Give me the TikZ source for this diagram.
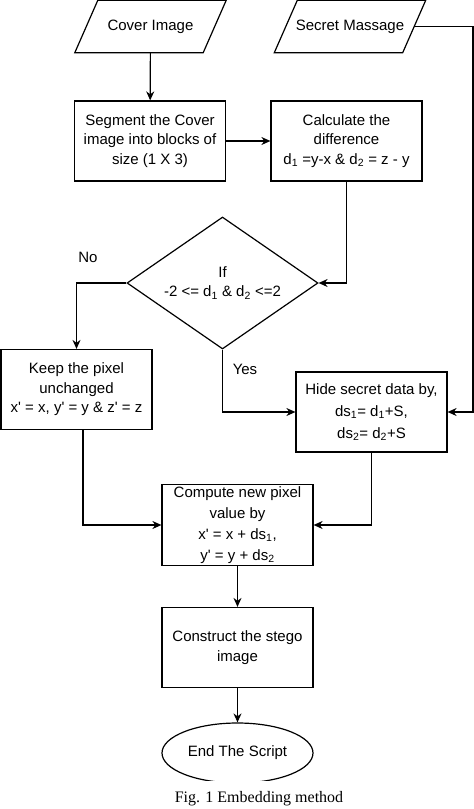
\documentclass[tikz,border=0pt]{standalone}
\usepackage{fontspec}
\newfontfamily\flowfont{Liberation Sans}
\newfontfamily\capfont{Liberation Serif}
\usetikzlibrary{shapes.geometric,arrows.meta}

\begin{document}
\begin{tikzpicture}
[x=1pt,y=-1pt,
  lineDecorate/.style={-{Stealth[length=9pt,width=8pt]},line width=1.2pt},%
  shapeLine/.style={line width=1.2pt},%
  nodeDecorate/.style={draw,line width=1.2pt,align=center,inner sep=2pt,
    font=\flowfont\fontsize{15}{19.5}\selectfont},%
  boxDecorate/.style={nodeDecorate,shape=rectangle,minimum width=151pt,minimum height=80pt},%
  ioDecorate/.style={align=center,inner sep=0pt,shape=rectangle,minimum width=128pt,
    minimum height=52pt,font=\flowfont\fontsize{15}{19.5}\selectfont},%
  decisionDecorate/.style={nodeDecorate,shape=diamond,aspect=1.45,inner sep=0pt,
    minimum width=191pt,minimum height=132pt},%
  endDecorate/.style={nodeDecorate,shape=ellipse,minimum width=151pt,minimum height=60pt},%
  labelDecorate/.style={font=\flowfont\fontsize{15}{19}\selectfont}]
\useasboundingbox (0,0) rectangle (474,809);
%% inputs and steps
\node (cover) at (150.5,26.5) [ioDecorate] {Cover Image};
\node (secret) at (350,26.5) [ioDecorate] {Secret Massage};
\foreach \io in {cover,secret}
{
  \draw[shapeLine] ([xshift=-11.5pt]\io.south west) -- ([xshift=-11.5pt]\io.south east)
    -- ([xshift=11.5pt]\io.north east) -- ([xshift=11.5pt]\io.north west) -- cycle;
}
\node (segment) at (150,141) [boxDecorate] {Segment the Cover\\image into blocks of\\size (1 X 3)};
\node (calc) at (346.5,141) [boxDecorate] {Calculate the\\difference\\d\textsubscript{1} =y-x \& d\textsubscript{2} = z - y};
\node (cond) at (222.5,283) [decisionDecorate] {If\\-2 <= d\textsubscript{1} \& d\textsubscript{2} <=2};
\node (keep) at (76.5,389.5) [boxDecorate] {Keep the pixel\\unchanged\\x' = x, y' = y \& z' = z};
\node (hide) at (371.5,412) [boxDecorate,font=\flowfont\fontsize{15}{22}\selectfont]
  {Hide secret data by,\\ds\textsubscript{1}= d\textsubscript{1}+S,\\ds\textsubscript{2}= d\textsubscript{2}+S};
\node (compute) at (237.5,525) [boxDecorate,font=\flowfont\fontsize{15}{21}\selectfont]
  {Compute new pixel\\value by\\x' = x + ds\textsubscript{1},\\y' = y + ds\textsubscript{2}};
\node (stego) at (237.5,647.5) [boxDecorate] {Construct the stego\\image};
\node (end) at (237.5,753) [endDecorate] {End The Script};
%% branch labels
\node (no) at (88,257) [labelDecorate] {No};
\node (yes) at (245,369) [labelDecorate] {Yes};
\coordinate (rail) at (473,412);
%% connectors
\draw[lineDecorate] (cover) -- (segment);
\draw[lineDecorate] (segment) -- (calc);
\draw[lineDecorate] (calc.south) |- (cond.east);
\draw[lineDecorate] (cond.west) -| (keep.north);
\draw[lineDecorate] (cond.south) |- (hide.west);
\draw[lineDecorate] (secret.east) -| (rail) -- (hide.east);
\draw[lineDecorate] ([xshift=6.5pt]keep.south) |- (compute.west);
\draw[lineDecorate] (hide.south) |- (compute.east);
\draw[lineDecorate] (compute) -- (stego);
\draw[lineDecorate] (stego) -- (end);
%% caption
\node (caption) at (259,799) [fill=white,inner sep=0pt,minimum height=36pt,minimum width=120pt,
  font=\capfont\fontsize{16}{19}\selectfont] {Fig. 1 Embedding method};
\end{tikzpicture}
\end{document}
